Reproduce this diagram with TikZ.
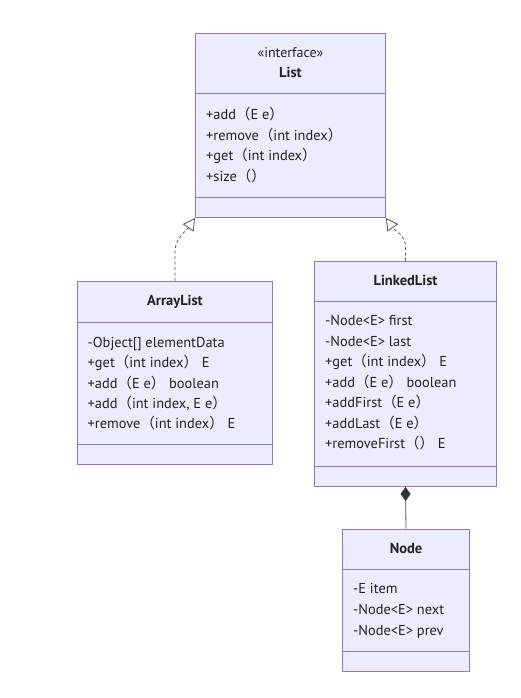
\documentclass[tikz,border=0pt]{standalone}
\usepackage{fontspec}
\setmainfont{PT Sans}
\newfontfamily\cjk{Noto Sans CJK SC}
\usetikzlibrary{arrows.meta,positioning}
\definecolor{umlfill}{HTML}{ECECFF}
\definecolor{umlborder}{HTML}{9370DB}
\definecolor{umlline}{HTML}{555555}
\definecolor{umltext}{HTML}{222222}
\newcommand{\lp}{{\cjk （}}
\newcommand{\rp}{{\cjk ）}}
\tikzstyle{classbox} = [rectangle, draw=umlborder, fill=umlfill, line width=1pt,
    inner sep=0pt, anchor=north west]
\tikzstyle{divider} = [draw=umlborder, line width=1pt]
\tikzset{
  member/.style={anchor=west, inner sep=0pt, text=umltext,
    font=\fontsize{14.4}{16}\selectfont, text height=10pt, text depth=3pt},
  classtitle/.style={anchor=center, inner sep=0pt, text=umltext,
    font=\fontsize{14.5}{16}\selectfont\bfseries, text height=10pt, text depth=3pt},
  stereo/.style={classtitle, font=\fontsize{14}{16}\selectfont},
  realize/.style={draw=umlline, line width=0.8pt, dash pattern=on 3pt off 2.5pt,
    -{Triangle[open, length=12pt, width=13pt, line width=0.8pt]}},
  compose/.style={draw=umlline, line width=0.8pt,
    -{Diamond[length=14pt, width=10pt, color=black!80, fill=black!80]}},
}

\begin{document}
\begin{tikzpicture}[x=1pt, y=-1pt]
    \useasboundingbox[fill=white] (0,0) rectangle (521,698);
    % Place nodes
    % List
    \node [classbox, minimum width=190pt, minimum height=184pt] (list) at (195,33) {};
    \node [stereo] (listStereo) at ([yshift=-21.5pt]list.north) {«interface»};
    \node [classtitle] (listTitle) at ([yshift=-41.5pt]list.north) {List};
    \path [divider] ([yshift=-61pt]list.north west) -- ([yshift=-61pt]list.north east);
    \path [divider] ([yshift=-164pt]list.north west) -- ([yshift=-164pt]list.north east);
    \node [member] (listM1) at ([xshift=11pt, yshift=-83pt]list.north west) {+add\lp E e\rp};
    \node [member] (listM2) at ([yshift=-20.5pt]listM1.west) {+remove\lp int index\rp};
    \node [member] (listM3) at ([yshift=-20.5pt]listM2.west) {+get\lp int index\rp};
    \node [member] (listM4) at ([yshift=-20.5pt]listM3.west) {+size\lp\rp};
    % ArrayList
    \node [classbox, minimum width=195pt, minimum height=183pt] (arrayList) at (77,281) {};
    \node [classtitle] (arrayTitle) at ([yshift=-20.5pt]arrayList.north) {ArrayList};
    \path [divider] ([yshift=-41pt]arrayList.north west) -- ([yshift=-41pt]arrayList.north east);
    \path [divider] ([yshift=-163pt]arrayList.north west) -- ([yshift=-163pt]arrayList.north east);
    \node [member] (arrayM1) at ([xshift=10.5pt, yshift=-63pt]arrayList.north west) {-Object[] elementData};
    \node [member] (arrayM2) at ([yshift=-20.3pt]arrayM1.west) {+get\lp int index\rp\ E};
    \node [member] (arrayM3) at ([yshift=-20.3pt]arrayM2.west) {+add\lp E e\rp\ boolean};
    \node [member] (arrayM4) at ([yshift=-20.3pt]arrayM3.west) {+add\lp int index, E e\rp};
    \node [member] (arrayM5) at ([yshift=-20.3pt]arrayM4.west) {+remove\lp int index\rp\ E};
    % LinkedList
    \node [classbox, minimum width=182pt, minimum height=225pt] (linkedList) at (314,261) {};
    \node [classtitle] (linkedTitle) at ([yshift=-20.5pt]linkedList.north) {LinkedList};
    \path [divider] ([yshift=-40pt]linkedList.north west) -- ([yshift=-40pt]linkedList.north east);
    \path [divider] ([yshift=-205pt]linkedList.north west) -- ([yshift=-205pt]linkedList.north east);
    \node [member] (linkedM1) at ([xshift=11pt, yshift=-61pt]linkedList.north west) {-Node<E> first};
    \node [member] (linkedM2) at ([yshift=-20.5pt]linkedM1.west) {-Node<E> last};
    \node [member] (linkedM3) at ([yshift=-20.5pt]linkedM2.west) {+get\lp int index\rp\ E};
    \node [member] (linkedM4) at ([yshift=-20.5pt]linkedM3.west) {+add\lp E e\rp\ boolean};
    \node [member] (linkedM5) at ([yshift=-20.5pt]linkedM4.west) {+addFirst\lp E e\rp};
    \node [member] (linkedM6) at ([yshift=-20.5pt]linkedM5.west) {+addLast\lp E e\rp};
    \node [member] (linkedM7) at ([yshift=-20.5pt]linkedM6.west) {+removeFirst\lp\rp\ E};
    % Node
    \node [classbox, minimum width=127pt, minimum height=142pt] (nodeClass) at (342,529) {};
    \node [classtitle] (nodeTitle) at ([yshift=-20.5pt]nodeClass.north) {Node};
    \path [divider] ([yshift=-40pt]nodeClass.north west) -- ([yshift=-40pt]nodeClass.north east);
    \path [divider] ([yshift=-122pt]nodeClass.north west) -- ([yshift=-122pt]nodeClass.north east);
    \node [member] (nodeM1) at ([xshift=11pt, yshift=-61pt]nodeClass.north west) {-E item};
    \node [member] (nodeM2) at ([yshift=-20.8pt]nodeM1.west) {-Node<E> next};
    \node [member] (nodeM3) at ([yshift=-20.8pt]nodeM2.west) {-Node<E> prev};
    % Draw edges
    \path [realize] (arrayList.north) -- ++(0,-30)
        .. controls +(0,-12) and +(-9,13) .. (list.south west);
    \path [realize] (linkedList.north) -- ++(0,-14)
        .. controls +(0,-12) and +(9,13) .. (list.south east);
    \path [compose] (nodeClass.north) -- (linkedList.south);
\end{tikzpicture}
\end{document}
